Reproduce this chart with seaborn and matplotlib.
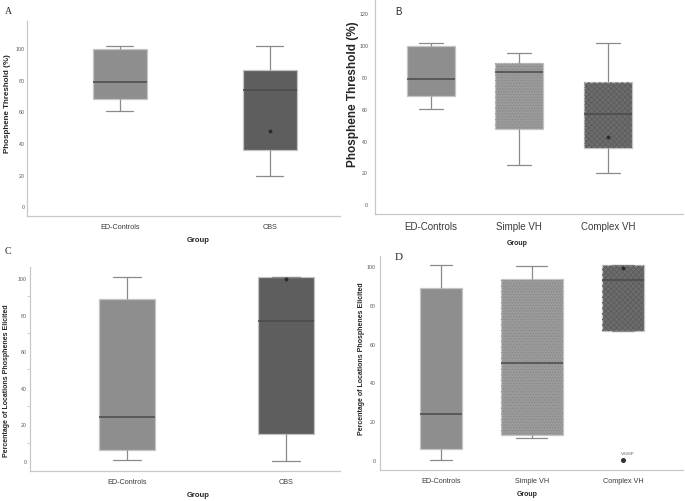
import numpy as np
import pandas as pd
import seaborn as sns
from matplotlib import pyplot as plt
from matplotlib.patches import PathPatch
from matplotlib.ticker import MultipleLocator

# values: min, Q1, median, Q3, max per group
groups_two = ["ED-Controls", "CBS"]
groups_three = ["ED-Controls", "Simple VH", "Complex VH"]

threshold_ed = [60, 68, 78.5, 99.4, 101]
threshold_cbs = [19.5, 35.4, 73.5, 86, 101]
threshold_simple = [24.4, 47, 82.7, 88.5, 94.6]
threshold_complex = [19.4, 35.4, 56.9, 76.5, 101]

locations_ed = [0.3, 5.8, 24, 88.4, 100.3]
locations_cbs = [0.2, 14.5, 76.5, 100.3, 100.3]
locations_simple = [11.2, 12.9, 50, 93, 100]
locations_complex = [0.3, 66.7, 92.8, 100.2, 100.2]  # 0.3 = outlier VS16P

# extra single markers drawn inside the boxes
marks_a = {"CBS": 47.5}
marks_b = {"Complex VH": 42.3}
marks_c = {"CBS": 99.3}
marks_d = {"Complex VH": 99}

sns.set_theme(style="white")
plt.rcParams['font.family'] = ['Liberation Sans', 'DejaVu Sans']
plt.rcParams['hatch.linewidth'] = 0.35

W, H = 685, 502
fig = plt.figure(figsize=(W / 100, H / 100), dpi=100)


def px_axes(x0, y0, x1, y1):
    return fig.add_axes([x0 / W, 1 - y1 / H, (x1 - x0) / W, (y1 - y0) / H])


def panel(ax, names, series, colors, hatches, widths, marks, ylabel, ylim, xlim,
          yticks, xfs, yfs, lfs, gfs, ypad, ylab_xy, xlab_xy):
    for n, vals, c, w, h in zip(names, series, colors, widths, hatches):
        df = pd.DataFrame({"Group": n, "value": vals})
        sns.boxplot(data=df, x="Group", y="value", order=names, color=c,
                    saturation=1, width=w, whis=1.5, linewidth=0.9,
                    linecolor="#8a8a8a",
                    boxprops=dict(edgecolor="#c4c4c4"),
                    medianprops=dict(color="#4a4a4a", linewidth=1.1),
                    flierprops=dict(marker="o", markersize=2.6,
                                    markerfacecolor="#333333",
                                    markeredgecolor="#333333"),
                    ax=ax)
        if h:
            box = ax.patches[-1]
            ax.add_patch(PathPatch(box.get_path(), facecolor="none",
                                   edgecolor=h[1], hatch=h[0], linewidth=0,
                                   zorder=box.get_zorder() + 0.01))
    mdf = pd.DataFrame({"Group": list(marks.keys()), "value": list(marks.values())})
    sns.stripplot(data=mdf, x="Group", y="value", order=names, jitter=False,
                  color="#2b2b2b", size=2.8, marker="o", ax=ax)
    ax.set_xlim(*xlim)
    ax.set_ylim(*ylim)
    ax.set_yticks(yticks)
    ax.set_ylabel(ylabel, fontsize=lfs, fontweight="bold")
    ax.set_xlabel("Group", fontsize=gfs, fontweight="bold")
    ax.yaxis.set_label_coords(*ylab_xy)
    ax.xaxis.set_label_coords(*xlab_xy)
    ax.tick_params(axis="x", labelsize=xfs, length=0, pad=5, colors="#3a3a3a")
    ax.tick_params(axis="y", labelsize=yfs, length=0, pad=ypad, colors="#555555")
    for s in ["top", "right"]:
        ax.spines[s].set_visible(False)
    for s in ["left", "bottom"]:
        ax.spines[s].set_color("#c8c8c8")
        ax.spines[s].set_linewidth(0.9)


dots = ("......", "#828282")
cross = ("xxxxxx", "#545454")

# A
axA = px_axes(27, 22, 340, 217)
panel(axA, groups_two, [threshold_ed, threshold_cbs], ["#8e8e8e", "#5e5e5e"],
      [None, None], [0.36, 0.36], marks_a, "Phosphene Threshold (%)", (-6, 117),
      (-0.62, 1.47), range(0, 101, 20), 5.2, 3.8, 5.8, 5.5, 1.8,
      (-0.051, 0.58), (0.546, -0.103))

# B
axB = px_axes(375, 1, 683, 215)
panel(axB, groups_three, [threshold_ed, threshold_simple, threshold_complex],
      ["#8e8e8e", "#9a9a9a", "#6c6c6c"], [None, dots, cross], [0.54, 0.54, 0.54],
      marks_b, "Phosphene Threshold (%)", (-6, 128), (-0.63, 2.85),
      range(0, 121, 20), 7, 3.8, 8.5, 5, 5,
      (-0.052, 0.565), (0.461, -0.117))

# C
axC = px_axes(30, 268, 340, 472)
panel(axC, groups_two, [locations_ed, locations_cbs], ["#8e8e8e", "#5e5e5e"],
      [None, None], [0.35, 0.35], marks_c,
      "Percentage of Locations Phosphenes Elicited", (-5.5, 106), (-0.61, 1.34),
      range(0, 101, 20), 5.2, 3.8, 5, 5.5, 2.2,
      (-0.063, 0.45), (0.542, -0.098))
axC.yaxis.set_minor_locator(MultipleLocator(10))
axC.tick_params(axis="y", which="minor", length=2, width=0.5, color="#bbbbbb", left=True)

# D
axD = px_axes(380, 257, 683, 471)
panel(axD, groups_three, [locations_ed, locations_simple, locations_complex],
      ["#8e8e8e", "#9a9a9a", "#6c6c6c"], [None, dots, cross], [0.47, 0.68, 0.47],
      marks_d, "Percentage of Locations Phosphenes Elicited", (-5, 105),
      (-0.67, 2.66), range(0, 101, 20), 5.2, 3.8, 5, 5, 3,
      (-0.048, 0.523), (0.485, -0.093))
axD.annotate("VS16P", (2, min(locations_complex)), xytext=(-1.5, 4),
             textcoords="offset points", fontsize=3.2, color="#555555", ha="left")

# panel letters
fig.text(5 / W, 1 - 12 / H, "A", fontsize=7, family="Liberation Serif", va="center")
fig.text(395 / W, 1 - 12 / H, "B", fontsize=7, va="center")
fig.text(5 / W, 1 - 252 / H, "C", fontsize=7, family="Liberation Serif", va="center")
fig.text(395 / W, 1 - 258 / H, "D", fontsize=8, family="Liberation Serif", va="center")

fig.savefig("out.png", dpi=100)
